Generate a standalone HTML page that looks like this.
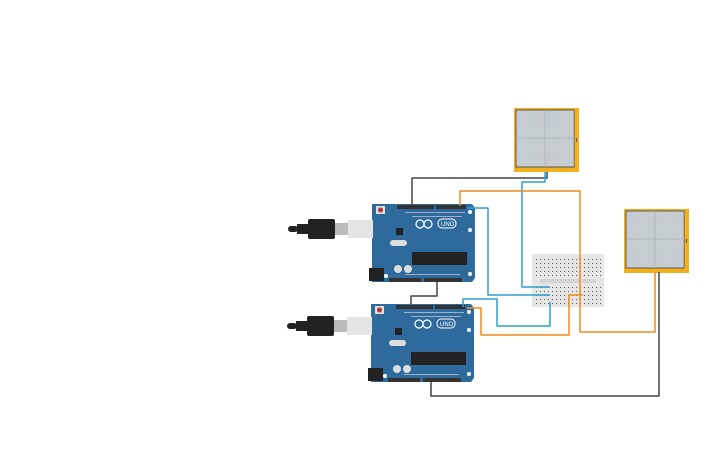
<!DOCTYPE html>
<html><head><meta charset="utf-8"><style>body{margin:0;background:#fff}svg{display:block}</style></head><body>
<svg width="725" height="453" viewBox="0 0 725 453" xmlns="http://www.w3.org/2000/svg" font-family="Liberation Sans, sans-serif">
<defs>
<pattern id="g" width="5" height="5" patternUnits="userSpaceOnUse"><path d="M5 0V5H0" fill="none" stroke="#b9c1c6" stroke-width="0.5"/></pattern>
<g id="lcd">
<rect x="0" y="0" width="65" height="64" fill="#f2b01e"/>
<rect x="2" y="2" width="58" height="57" fill="#c7ced2" stroke="#555" stroke-width="1"/>
<rect x="2" y="2" width="58" height="57" fill="url(#g)"/>
<line x1="31" y1="2" x2="31" y2="59" stroke="#aab2b7" stroke-width="0.8"/>
<line x1="2" y1="30" x2="60" y2="30" stroke="#aab2b7" stroke-width="0.8"/>
<rect x="62" y="30" width="1" height="4" fill="#555"/>
</g>
<g id="ard">
<path d="M0 0H100L103 4V74L100 78H0Z" fill="#2e6a9c"/>
<rect x="4" y="2" width="9" height="8" fill="#ddd"/><circle cx="8.5" cy="6" r="2.5" fill="#b33"/>
<rect x="25" y="1" width="37" height="4" fill="#333"/><rect x="64" y="1" width="30" height="4" fill="#333"/>
<rect x="17" y="74" width="32" height="4" fill="#333"/><rect x="52" y="74" width="38" height="4" fill="#333"/>
<g fill="#ccd" opacity="0.7"><rect x="33" y="8" width="60" height="1"/><rect x="40" y="12" width="50" height="1"/><rect x="33" y="70" width="55" height="1"/></g>
<circle cx="48" cy="20" r="4" fill="none" stroke="#fff" stroke-width="1.2"/><circle cx="56" cy="20" r="4" fill="none" stroke="#fff" stroke-width="1.2"/>
<rect x="66" y="15" width="18" height="9" rx="4" fill="none" stroke="#fff" stroke-width="1"/>
<text x="69" y="22" font-size="6" fill="#fff">UNO</text>
<rect x="24" y="24" width="7" height="7" fill="#222"/>
<rect x="18" y="36" width="17" height="6" rx="3" fill="#ddd"/>
<rect x="40" y="48" width="55" height="13" fill="#222"/>
<rect x="-3" y="64" width="15" height="13" fill="#222"/>
<circle cx="26" cy="65" r="4" fill="#ddd"/><circle cx="36" cy="65" r="4" fill="#ddd"/>
<circle cx="98" cy="8" r="2" fill="#fff"/><circle cx="98" cy="70" r="2" fill="#fff"/><circle cx="98" cy="26" r="2" fill="#fff"/><circle cx="14" cy="72" r="2" fill="#fff"/>
</g>
<g id="usb">
<rect x="0" y="-3" width="10" height="6" rx="3" fill="#222"/>
<rect x="9" y="-5" width="12" height="10" fill="#222"/>
<rect x="20" y="-10" width="27" height="20" rx="2" fill="#222"/>
<rect x="47" y="-6" width="13" height="12" fill="#bbb"/>
<rect x="60" y="-9" width="25" height="18" fill="#e4e4e4"/>
</g>
</defs>
<use href="#lcd" x="514" y="108"/>
<use href="#lcd" x="624" y="209"/>
<rect x="532" y="254" width="72" height="53" fill="#e6e6e6"/>
<g fill="#555">
<g id="row"><rect x="536" y="259" width="1" height="1"/><rect x="540" y="259" width="1" height="1"/><rect x="544" y="259" width="1" height="1"/><rect x="548" y="259" width="1" height="1"/><rect x="552" y="259" width="1" height="1"/><rect x="556" y="259" width="1" height="1"/><rect x="560" y="259" width="1" height="1"/><rect x="564" y="259" width="1" height="1"/><rect x="568" y="259" width="1" height="1"/><rect x="572" y="259" width="1" height="1"/><rect x="576" y="259" width="1" height="1"/><rect x="580" y="259" width="1" height="1"/><rect x="584" y="259" width="1" height="1"/><rect x="588" y="259" width="1" height="1"/><rect x="592" y="259" width="1" height="1"/><rect x="596" y="259" width="1" height="1"/><rect x="600" y="259" width="1" height="1"/></g>
<use href="#row" y="4"/><use href="#row" y="8"/><use href="#row" y="12"/><use href="#row" y="16"/>
<use href="#row" y="28"/><use href="#row" y="32"/><use href="#row" y="36"/><use href="#row" y="40"/><use href="#row" y="44"/>
</g>
<rect x="540" y="279" width="56" height="4" fill="#d4d4d4"/>
<use href="#ard" x="372" y="204"/>
<use href="#ard" x="371" y="304"/>
<use href="#usb" x="288" y="229"/>
<use href="#usb" x="287" y="326"/>
<g fill="none" stroke-width="1.5" stroke-linejoin="round">
<path d="M547 172V178H412V205" stroke="#444"/>
<path d="M437 282V296H411V304" stroke="#444"/>
<path d="M431 382V396H659V272" stroke="#444"/>
<path d="M545 172V182H522V287H550" stroke="#2aa0d0"/>
<path d="M467 208H488V295H550" stroke="#2aa0d0"/>
<path d="M463 307V299H497V326H550V302" stroke="#2aa0d0"/>
<path d="M460 206V191H580V332H655V272" stroke="#f08c1a"/>
<path d="M467 308H481V335H569V295H583" stroke="#f08c1a"/>
</g>
</svg>
</body></html>
